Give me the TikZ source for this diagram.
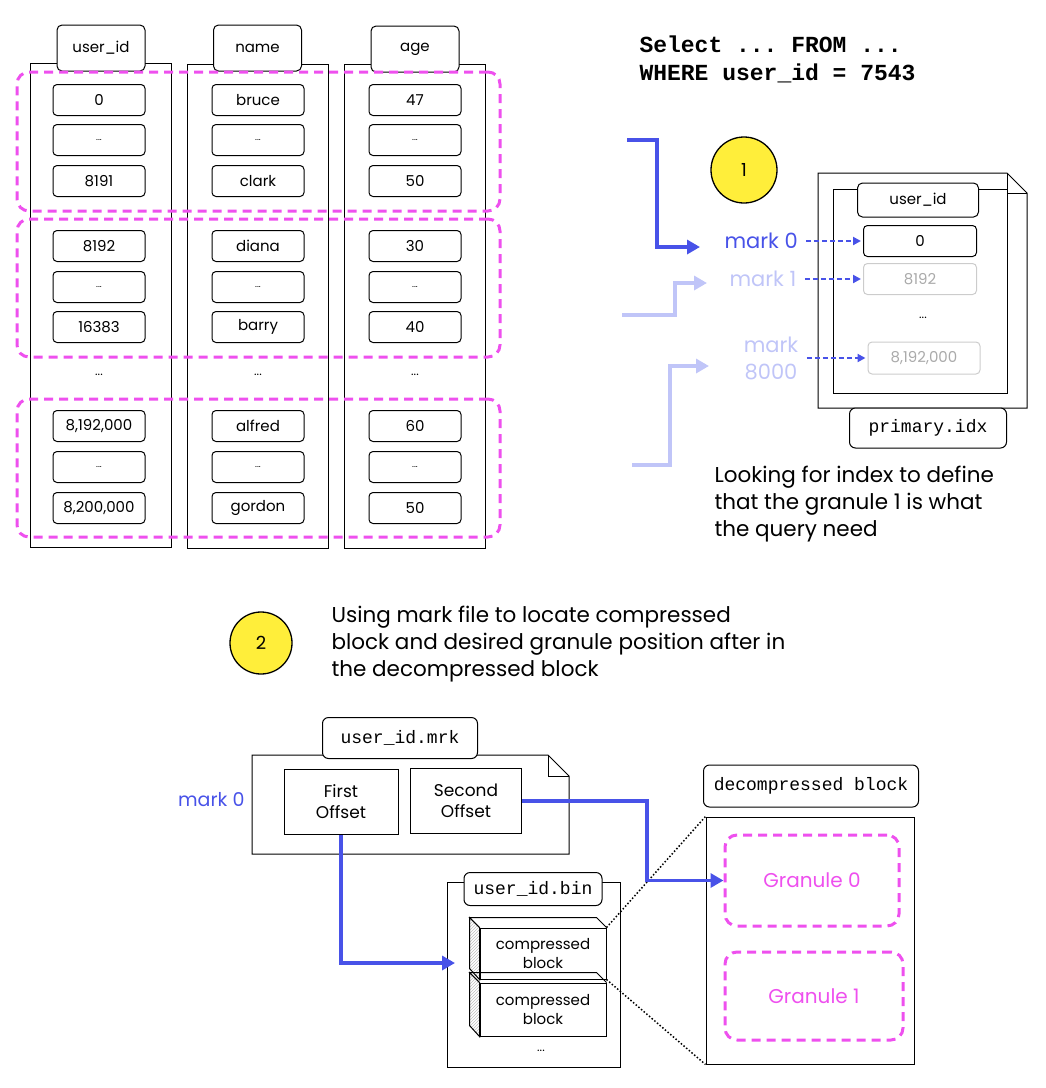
\documentclass[tikz,border=0pt]{standalone}
\usepackage{fontspec}
\setmainfont{Poppins}
\setmonofont{Liberation Mono}
\usetikzlibrary{arrows.meta,positioning,patterns}

\definecolor{grpmag}{RGB}{238,80,238}
\definecolor{markblue}{RGB}{72,82,232}
\definecolor{fadeblue}{RGB}{192,197,248}
\definecolor{ballyellow}{RGB}{255,238,58}
\definecolor{fadegray}{RGB}{170,170,170}

\tikzset{
  colbox/.style={draw, line width=1pt, minimum width=141pt, minimum height=484pt, inner sep=0pt},
  header/.style={draw, fill=white, line width=1pt, rounded corners=5pt, minimum width=88pt, minimum height=46pt, font=\fontsize{15}{18}\selectfont},
  cellbox/.style={draw, line width=1pt, rounded corners=4pt, minimum width=92pt, minimum height=31pt, inner sep=0pt, font=\fontsize{15}{18}\selectfont},
  fadecell/.style={cellbox, draw=fadegray!60, text=fadegray},
  granbox/.style={draw=grpmag, line width=3pt, dash pattern=on 9pt off 6pt, rounded corners=12pt, inner sep=0pt},
  filelabel/.style={draw, fill=white, line width=1pt, rounded corners=6pt, font=\ttfamily\fontsize{18}{20}\selectfont},
  ball/.style={circle, draw, line width=1.3pt, fill=ballyellow, font=\fontsize{18}{20}\selectfont},
  notetext/.style={align=left, font=\fontsize{21.5}{27}\selectfont},
  marklbl/.style={font=\fontsize{21}{27}\selectfont, text=markblue},
  bluearrow/.style={draw=markblue, line width=3.5pt, -{Triangle[length=13pt,width=14pt]}},
  fadearrow/.style={bluearrow, draw=fadeblue},
  markdash/.style={draw=markblue, line width=2pt, dash pattern=on 5pt off 3pt, shorten <=5pt, shorten >=2pt, -{Triangle[length=8pt,width=8pt]}},
  offsetbox/.style={draw, line width=1pt, minimum width=114pt, minimum height=65pt, align=center, font=\fontsize{17}{21}\selectfont},
  blockface/.style={draw, line width=1pt, minimum width=126pt, minimum height=51pt, align=center, font=\fontsize{15}{19}\selectfont}
}

\begin{document}
\begin{tikzpicture}[x=1pt,y=-1pt]
\useasboundingbox (0,0) rectangle (1046,1088);

% Columns
\node[colbox] (colid) at (100.5,305) {};
\node[colbox] (colnm) at (257.5,306) {};
\node[colbox] (colag) at (414.5,306) {};
\node[header] (hid) at (101,48) {user\_id};
\node[header] (hnm) at (257.5,48) {name};
\node[header] (hag) at (415,49) {age};

% Cells user_id
\node[cellbox] (id1) at (99,100) {0};
\node[cellbox, font=\fontsize{9}{10}\selectfont] (id2) at (99,140) {...};
\node[cellbox] (id3) at (99,181) {8191};
\node[cellbox] (id4) at (99,246) {8192};
\node[cellbox, font=\fontsize{9}{10}\selectfont] (id5) at (99,287) {...};
\node[cellbox] (id6) at (99,327) {16383};
\node[cellbox] (id7) at (99,426) {8,192,000};
\node[cellbox, font=\fontsize{9}{10}\selectfont] (id8) at (99,467) {...};
\node[cellbox] (id9) at (99,508) {8,200,000};

% Cells name
\node[cellbox] (nm1) at (258,100) {bruce};
\node[cellbox, font=\fontsize{9}{10}\selectfont] (nm2) at (258,140) {...};
\node[cellbox] (nm3) at (258,181) {clark};
\node[cellbox] (nm4) at (258,246) {diana};
\node[cellbox, font=\fontsize{9}{10}\selectfont] (nm5) at (258,287) {...};
\node[cellbox] (nm6) at (258,327) {barry};
\node[cellbox] (nm7) at (258,426) {alfred};
\node[cellbox, font=\fontsize{9}{10}\selectfont] (nm8) at (258,467) {...};
\node[cellbox] (nm9) at (258,508) {gordon};

% Cells age
\node[cellbox] (ag1) at (415,100) {47};
\node[cellbox, font=\fontsize{9}{10}\selectfont] (ag2) at (415,140) {...};
\node[cellbox] (ag3) at (415,181) {50};
\node[cellbox] (ag4) at (415,246) {30};
\node[cellbox, font=\fontsize{9}{10}\selectfont] (ag5) at (415,287) {...};
\node[cellbox] (ag6) at (415,327) {40};
\node[cellbox] (ag7) at (415,426) {60};
\node[cellbox, font=\fontsize{9}{10}\selectfont] (ag8) at (415,467) {...};
\node[cellbox] (ag9) at (415,508) {50};

% Skipped rows
\node[font=\fontsize{12}{14}\selectfont] (iddots) at (99,375) {...};
\node[font=\fontsize{12}{14}\selectfont] (nmdots) at (258,375) {...};
\node[font=\fontsize{12}{14}\selectfont] (agdots) at (415,375) {...};

% Granule groups
\node[granbox, minimum width=483pt, minimum height=139pt] (grp1) at (258.5,141.5) {};
\node[granbox, minimum width=483pt, minimum height=138pt] (grp2) at (258.5,288) {};
\node[granbox, minimum width=483pt, minimum height=138pt] (grp3) at (258.5,468) {};

% Query
\node[align=left, anchor=west, font=\ttfamily\bfseries\fontsize{23}{28}\selectfont] (query) at (636,59) {Select ... FROM ...\\WHERE user\_id = 7543};

% Step 1
\node[ball, minimum size=66pt] (step1) at (744,170) {1};

% Marks
\node[marklbl, anchor=west] (mark0) at (721,241) {mark 0};
\node[marklbl, anchor=west, text=fadeblue] (mark1) at (726,279) {mark 1};
\node[marklbl, align=center, text=fadeblue] (mark8000) at (771,358) {mark\\8000};

% Arrows from granules to marks
\coordinate (g1out) at (627,140);
\coordinate (tip1) at (700,247);
\draw[bluearrow] (g1out) -- ++(30,0) |- (tip1);
\coordinate (g2out) at (622,315);
\coordinate (tip2) at (707,283);
\draw[fadearrow] (g2out) -- ++(53,0) |- (tip2);
\coordinate (g3out) at (632,465);
\coordinate (tip3) at (709,366);
\draw[fadearrow] (g3out) -- ++(38,0) |- (tip3);

% primary.idx file
\draw[line width=1pt] (818,173) -- (1007,173) -- (1027,193) -- (1027,408) -- (818,408) -- cycle;
\draw[line width=1pt] (1007,173) -- (1007,193) -- (1027,193);
\node[draw, line width=1pt, minimum width=174pt, minimum height=204pt] (pidxbox) at (920,291) {};
\node[header, minimum width=121pt, minimum height=34pt] (pidxhead) at (918,200) {user\_id};
\node[cellbox, minimum width=113pt] (pidx0) at (920,241) {0};
\node[fadecell, minimum width=113pt] (pidx1) at (920,279) {8192};
\node[font=\fontsize{12}{14}\selectfont] (pidxdots) at (923,318) {...};
\node[fadecell, minimum width=112pt, minimum height=32pt] (pidx2) at (924,358) {8,192,000};
\node[filelabel, minimum width=157pt, minimum height=40pt] (pidxname) at (928,428) {primary.idx};

\draw[markdash] (mark0.east) -- (pidx0.west);
\draw[markdash] (mark1.east) -- (pidx1.west);
\draw[markdash] (mark8000.east) -- (pidx2.west);

\node[notetext, anchor=west] (note1) at (711,504) {Looking for index to define\\that the granule 1 is what\\the query need};

% Step 2
\node[ball, minimum size=62pt] (step2) at (261,643) {2};
\node[notetext, anchor=west] (note2) at (328,644) {Using mark file to locate compressed\\block and desired granule position after in\\the decompressed block};

% user_id.mrk file
\draw[line width=1pt] (252,755) -- (548,755) -- (569,776) -- (569,854) -- (252,854) -- cycle;
\draw[line width=1pt] (548,755) -- (548,776) -- (569,776);
\node[filelabel, minimum width=155pt, minimum height=41pt] (mrkname) at (400,738) {user\_id.mrk};
\node[offsetbox] (first) at (341,802) {First\\Offset};
\node[offsetbox, minimum width=111pt] (second) at (466,801) {Second\\Offset};
\node[marklbl, anchor=east, font=\fontsize{19}{22}\selectfont] (mrkmark) at (248,800) {mark 0};

% user_id.bin file
\node[draw, line width=1pt, minimum width=173pt, minimum height=185pt] (binbox) at (533.5,974.5) {};
\node[filelabel, minimum width=138pt, minimum height=33pt] (binname) at (533,889) {user\_id.bin};
\node[blockface] (blk1) at (543,953.5) {compressed\\block};
\node[blockface, minimum height=53pt] (blk2) at (543,1009.5) {compressed\\block};
\draw[line width=1pt] (blk1.north west) -- ++(-10,-10) -- ([shift={(-10,-10)}]blk1.north east) -- (blk1.north east);
\draw[line width=1pt, pattern=north east lines, pattern color=gray!50] (blk1.north west) -- ++(-10,-10) -- ++(0,51) -- (blk1.south west) -- cycle;
\draw[line width=1pt] (blk2.north west) -- ++(-10,-10) -- ([shift={(-10,-10)}]blk2.north east) -- (blk2.north east);
\draw[line width=1pt, pattern=north east lines, pattern color=gray!50] (blk2.north west) -- ++(-10,-10) -- ++(0,53) -- (blk2.south west) -- cycle;
\node[font=\fontsize{12}{14}\selectfont] (bindots) at (541,1051) {...};

% decompressed block
\node[filelabel, minimum width=215pt, minimum height=42pt] (decname) at (811,786) {decompressed block};
\node[draw, line width=1pt, minimum width=208pt, minimum height=247pt] (decbox) at (810,940.5) {};
\node[granbox, minimum width=174pt, minimum height=91pt, text=grpmag, font=\fontsize{20}{22}\selectfont] (gran0) at (812,880.5) {Granule 0};
\node[granbox, minimum width=178pt, minimum height=88pt, text=grpmag, font=\fontsize{20}{22}\selectfont] (gran1) at (814,996) {Granule 1};

% Zoom lines
\draw[line width=1.5pt, dotted] (blk1.north east) -- (decbox.north west);
\draw[line width=1.5pt, dotted] (blk1.south east) -- (decbox.south west);

% Offset arrows
\coordinate (binin) at (455,963);
\draw[bluearrow] (first.south) |- (binin);
\coordinate (turn2) at (647,880.5);
\draw[bluearrow] (second.east) -| (turn2) -- (gran0.west);
\end{tikzpicture}
\end{document}
